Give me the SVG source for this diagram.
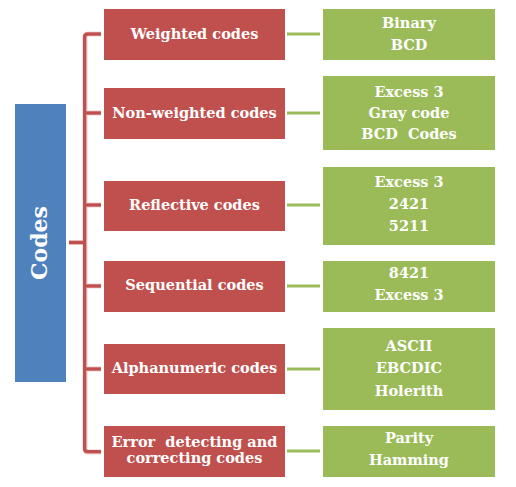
<svg xmlns="http://www.w3.org/2000/svg" width="516" height="487" viewBox="0 0 516 487">
<style>
.red{fill:#C0504D}
.grn{fill:#9BBB59}
.blue{fill:#4F81BD}
text{font-family:"DejaVu Serif","Liberation Serif",serif;font-weight:bold;fill:#FFFFFF;text-anchor:middle;font-size:14.5px}
.rl{fill:none;stroke:#C0504D;stroke-width:3}
.rh{fill:none;stroke:#E0A3A1;stroke-width:4.5}
.gl{fill:none;stroke:#9BBB59;stroke-width:3}
</style>
<rect width="516" height="487" fill="#FFFFFF"/>
<g id="connectors">
<path class="rh" d="M101,34 H88 Q85,34 85,37 V449 Q85,452 88,452 H101"/>
<path class="rh" d="M69,242.5 H85 M85,113 H101 M85,205 H101 M85,286 H101 M85,369 H101"/>
<path class="rl" d="M101,34 H88 Q84.5,34 84.5,37 V449 Q84.5,451.5 88,451.5 H101"/>
<path class="rl" d="M69,242.5 H84.5 M84.5,113 H101 M84.5,205 H101 M84.5,286 H101 M84.5,369 H101"/>
<path class="gl" d="M287,34 H320 M287,113 H320 M287,205 H320 M287,286 H320 M287,369 H320 M287,451 H320"/>
</g>
<g id="codes">
<rect class="blue" x="15" y="104" width="51" height="278"/>
<text x="0" y="0" transform="translate(47,243) rotate(-90)" style="font-size:22px">Codes</text>
</g>
<g id="weighted">
<rect class="red" x="104" y="9" width="181" height="51"/>
<text x="194.5" y="39">Weighted codes</text>
</g>
<g id="nonweighted">
<rect class="red" x="104" y="88" width="181" height="51"/>
<text x="194.5" y="118">Non-weighted codes</text>
</g>
<g id="reflective">
<rect class="red" x="104" y="181" width="181" height="50"/>
<text x="194.5" y="210">Reflective codes</text>
</g>
<g id="sequential">
<rect class="red" x="104" y="261" width="181" height="51"/>
<text x="194.5" y="290">Sequential codes</text>
</g>
<g id="alphanumeric">
<rect class="red" x="104" y="344" width="181" height="50"/>
<text x="194.5" y="373">Alphanumeric codes</text>
</g>
<g id="error">
<rect class="red" x="104" y="426" width="181" height="51"/>
<text x="194.5" y="447" xml:space="preserve">Error  detecting and</text>
<text x="194.5" y="463">correcting codes</text>
</g>
<g id="g-weighted">
<rect class="grn" x="323" y="9" width="172" height="51"/>
<text x="409" y="28">Binary</text>
<text x="409" y="50">BCD</text>
</g>
<g id="g-nonweighted">
<rect class="grn" x="323" y="76" width="172" height="74"/>
<text x="409" y="97">Excess 3</text>
<text x="409" y="118">Gray code</text>
<text x="409" y="139" xml:space="preserve">BCD  Codes</text>
</g>
<g id="g-reflective">
<rect class="grn" x="323" y="167" width="172" height="78"/>
<text x="409" y="187">Excess 3</text>
<text x="409" y="209">2421</text>
<text x="409" y="231">5211</text>
</g>
<g id="g-sequential">
<rect class="grn" x="323" y="261" width="172" height="51"/>
<text x="409" y="278">8421</text>
<text x="409" y="300">Excess 3</text>
</g>
<g id="g-alphanumeric">
<rect class="grn" x="323" y="328" width="172" height="82"/>
<text x="409" y="351">ASCII</text>
<text x="409" y="373">EBCDIC</text>
<text x="409" y="396">Holerith</text>
</g>
<g id="g-error">
<rect class="grn" x="323" y="426" width="172" height="51"/>
<text x="409" y="443">Parity</text>
<text x="409" y="465">Hamming</text>
</g>
</svg>
